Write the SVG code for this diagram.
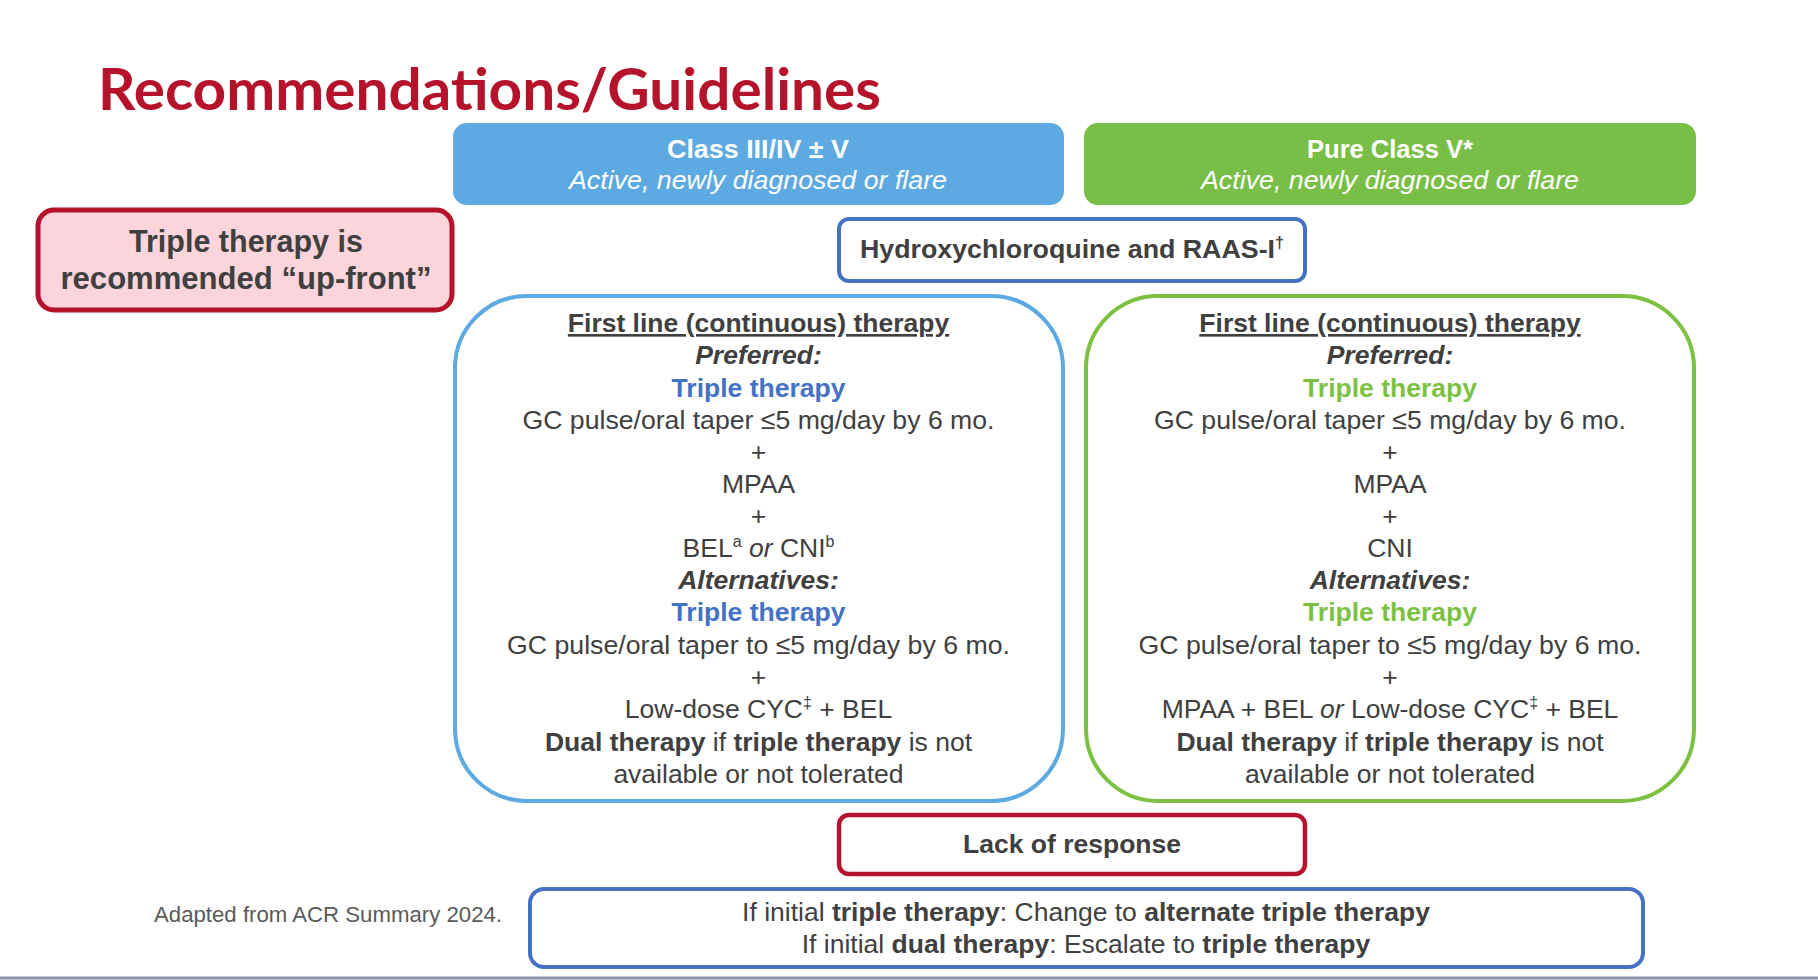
<svg xmlns="http://www.w3.org/2000/svg" width="1818" height="980" viewBox="0 0 1818 980">
<defs>
<style>
.bg{fill:#ffffff}
.title{font-family:Lato,"Liberation Sans",sans-serif;font-weight:700;font-size:57px;fill:#B5132B}
.hdr{font-family:"Liberation Sans",Arial,sans-serif;fill:#ffffff;text-anchor:middle}
.hb{font-size:25.5px;font-weight:700}
.hi{font-size:25.5px;font-style:italic}
.body{font-family:"Liberation Sans",Arial,sans-serif;font-size:26.5px;fill:#404040;text-anchor:middle}
.b{font-weight:700}
.bi{font-weight:700;font-style:italic}
.i{font-style:italic}
.blue{fill:#4472C4;font-weight:700}
.green{fill:#7DC143;font-weight:700}
.u{text-decoration:underline}
.sup{font-size:16px}
.callout{font-family:"Liberation Sans",Arial,sans-serif;font-weight:700;font-size:30.5px;fill:#404040;text-anchor:middle}
.note{font-family:"Liberation Sans",Arial,sans-serif;font-size:22px;fill:#5A5A5A}
</style>
</defs>
<rect class="bg" x="0" y="0" width="1818" height="980"/>
<line x1="0" y1="978" x2="1818" y2="978" stroke="#8899AE" stroke-width="3"/>

<g id="title">
<text class="title" x="98" y="110" textLength="783" lengthAdjust="spacingAndGlyphs">Recommendations/Guidelines</text>
</g>

<g id="class-iii-iv">
<rect x="453" y="123" width="611" height="82" rx="14" fill="#5DA9E1"/>
<text class="hdr hb" x="758" y="158" textLength="182" lengthAdjust="spacingAndGlyphs">Class III/IV ± V</text>
<text class="hdr hi" x="758" y="189" textLength="378" lengthAdjust="spacingAndGlyphs">Active, newly diagnosed or flare</text>
</g>

<g id="pure-class-v">
<rect x="1084" y="123" width="612" height="82" rx="14" fill="#79BF47"/>
<text class="hdr hb" x="1390" y="158">Pure Class V*</text>
<text class="hdr hi" x="1390" y="189" textLength="378" lengthAdjust="spacingAndGlyphs">Active, newly diagnosed or flare</text>
</g>

<g id="triple-upfront">
<rect x="38" y="210" width="414" height="100" rx="16" fill="#FBD5DB" stroke="#B5132B" stroke-width="5"/>
<text class="callout" x="246" y="252">Triple therapy is</text>
<text class="callout" x="246" y="289" textLength="371" lengthAdjust="spacingAndGlyphs">recommended “up-front”</text>
</g>

<g id="hcq-raas">
<rect x="839" y="219" width="466" height="62" rx="10" fill="#ffffff" stroke="#4472C4" stroke-width="4"/>
<text class="body b" x="1072" y="258" textLength="424" lengthAdjust="spacingAndGlyphs">Hydroxychloroquine and RAAS-I<tspan class="sup" dy="-10">†</tspan></text>
</g>

<g id="left-therapy">
<rect x="455" y="296" width="608" height="505" rx="72" fill="#ffffff" stroke="#5DA9E1" stroke-width="4"/>
<text class="body b u" x="758.5" y="332">First line (continuous) therapy</text>
<text class="body bi" x="758.5" y="364">Preferred:</text>
<text class="body blue" x="758.5" y="397">Triple therapy</text>
<text class="body" x="758.5" y="429" textLength="472" lengthAdjust="spacingAndGlyphs">GC pulse/oral taper ≤5 mg/day by 6 mo.</text>
<text class="body" x="758.5" y="461">+</text>
<text class="body" x="758.5" y="493">MPAA</text>
<text class="body" x="758.5" y="525">+</text>
<text class="body" x="758.5" y="557">BEL<tspan class="sup" dy="-10">a</tspan><tspan dy="10"> </tspan><tspan class="i">or</tspan> CNI<tspan class="sup" dy="-10">b</tspan></text>
<text class="body bi" x="758.5" y="589">Alternatives:</text>
<text class="body blue" x="758.5" y="621">Triple therapy</text>
<text class="body" x="758.5" y="654" textLength="503" lengthAdjust="spacingAndGlyphs">GC pulse/oral taper to ≤5 mg/day by 6 mo.</text>
<text class="body" x="758.5" y="686">+</text>
<text class="body" x="758.5" y="718">Low-dose CYC<tspan class="sup" dy="-10">‡</tspan><tspan dy="10"> + BEL</tspan></text>
<text class="body" x="758.5" y="751"><tspan class="b">Dual therapy</tspan> if <tspan class="b">triple therapy</tspan> is not</text>
<text class="body" x="758.5" y="783">available or not tolerated</text>
</g>

<g id="right-therapy">
<rect x="1086" y="296" width="608" height="505" rx="72" fill="#ffffff" stroke="#7DC143" stroke-width="4"/>
<text class="body b u" x="1390" y="332">First line (continuous) therapy</text>
<text class="body bi" x="1390" y="364">Preferred:</text>
<text class="body green" x="1390" y="397">Triple therapy</text>
<text class="body" x="1390" y="429" textLength="472" lengthAdjust="spacingAndGlyphs">GC pulse/oral taper ≤5 mg/day by 6 mo.</text>
<text class="body" x="1390" y="461">+</text>
<text class="body" x="1390" y="493">MPAA</text>
<text class="body" x="1390" y="525">+</text>
<text class="body" x="1390" y="557">CNI</text>
<text class="body bi" x="1390" y="589">Alternatives:</text>
<text class="body green" x="1390" y="621">Triple therapy</text>
<text class="body" x="1390" y="654" textLength="503" lengthAdjust="spacingAndGlyphs">GC pulse/oral taper to ≤5 mg/day by 6 mo.</text>
<text class="body" x="1390" y="686">+</text>
<text class="body" x="1390" y="718">MPAA + BEL <tspan class="i">or</tspan> Low-dose CYC<tspan class="sup" dy="-10">‡</tspan><tspan dy="10"> + BEL</tspan></text>
<text class="body" x="1390" y="751"><tspan class="b">Dual therapy</tspan> if <tspan class="b">triple therapy</tspan> is not</text>
<text class="body" x="1390" y="783">available or not tolerated</text>
</g>

<g id="lack-of-response">
<rect x="839" y="815" width="466" height="59" rx="10" fill="#ffffff" stroke="#B5132B" stroke-width="4.5"/>
<text class="body b" x="1072" y="853">Lack of response</text>
</g>

<g id="escalation">
<rect x="530" y="889" width="1113" height="78" rx="14" fill="#ffffff" stroke="#4472C4" stroke-width="4"/>
<text class="body" x="1086" y="921"><tspan>If initial </tspan><tspan class="b">triple therapy</tspan><tspan>: Change to </tspan><tspan class="b">alternate triple therapy</tspan></text>
<text class="body" x="1086" y="953"><tspan>If initial </tspan><tspan class="b">dual therapy</tspan><tspan>: Escalate to </tspan><tspan class="b">triple therapy</tspan></text>
</g>

<g id="source-note">
<text class="note" x="154" y="922" textLength="348" lengthAdjust="spacingAndGlyphs">Adapted from ACR Summary 2024.</text>
</g>

<g id="connectors"></g>
</svg>
